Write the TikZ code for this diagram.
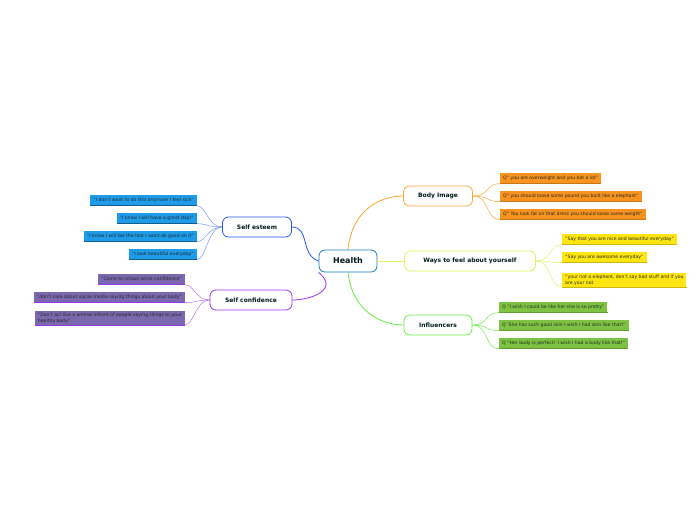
\documentclass[tikz,border=0pt]{standalone}
\usepackage{fontspec}
\setmainfont{DejaVu Sans}
\begin{document}
\begin{tikzpicture}[x=1pt,y=-1pt,
  topic/.style={draw=#1,fill=white,rounded corners=6pt,line width=0.8pt,font=\bfseries\fontsize{6}{7}\selectfont,text=black!80!teal,minimum height=20pt,inner xsep=6pt},
  leaf/.style={fill=#1,font=\fontsize{4.6}{5.6}\selectfont,text=black!85,minimum height=11pt,inner xsep=3pt,inner ysep=2pt,align=left},
  con/.style={draw=#1,line width=0.5pt}]
\clip (0,0) rectangle (696,520);
\useasboundingbox (0,0) rectangle (696,520);
\definecolor{cor}{HTML}{F7931E}\definecolor{cyl}{HTML}{FFE512}\definecolor{cgr}{HTML}{7DC242}
\definecolor{cbl}{HTML}{1E9BE9}\definecolor{cpu}{HTML}{7B68AE}
\definecolor{bor}{HTML}{F8A53A}\definecolor{byl}{HTML}{DDF55A}\definecolor{bgr}{HTML}{66EE44}
\definecolor{bbl}{HTML}{2255EE}\definecolor{bpu}{HTML}{9933EE}
\node[topic=cbl!80!black,font=\bfseries\fontsize{8}{9}\selectfont,minimum width=58pt,minimum height=22pt] (h) at (348,261) {Health};
\node[topic=bor,minimum width=69pt] (bi) at (438,196) {Body Image};
\node[topic=byl,minimum width=131pt] (wf) at (470,261) {Ways to feel about yourself};
\node[topic=bgr,minimum width=68pt] (inf) at (438,325) {Influencers};
\node[topic=bbl,minimum width=69pt] (se) at (257,227) {Self esteem};
\node[topic=bpu,minimum width=82pt] (sc) at (251,300) {Self confidence};
% main connectors
\draw[con=bor,line width=0.8pt] (h.north) .. controls (352,210) and (380,196) .. (bi.west);
\draw[con=byl,line width=0.8pt] (h.east) -- (wf.west);
\draw[con=bgr,line width=0.8pt] (h.south) .. controls (352,310) and (380,325) .. (inf.west);
\draw[con=bbl,line width=0.8pt] (h.west) .. controls (300,255) and (310,227) .. (se.east);
\draw[con=bpu,line width=0.8pt] (h.south west) .. controls (340,290) and (310,300) .. (sc.east);
% leaves right
\foreach \n/\y/\t in {a/178/{Q" you are overweight and you eat a lot"},b/196/{Q" you should loose some pound you built like a elephant"},c/214/{Q" You look fat on that dress you should loose some weight"}}{
  \node[leaf=cor,anchor=west] (bi\n) at (500,\y) {\t};
  \draw[cor!80!black,line width=0.6pt] (bi\n.south west) -- (bi\n.south east);
  \draw[con=bor] (bi.east) .. controls (490,196) and (485,\y+5.5) .. (bi\n.south west);}
\foreach \n/\y/\t in {a/239/{"Say that you are nice and beautiful everyday"},b/257/{"Say you are awesome everyday"},c/280/{"your not a elephant, don't say bad stuff and if you\\are your not}}{
  \node[leaf=cyl,anchor=west] (wf\n) at (562,\y) {\t};
  \draw[cyl!80!black,line width=0.6pt] (wf\n.south west) -- (wf\n.south east);
  \draw[con=byl] (wf.east) .. controls (552,261) and (548,\y+6) .. (wf\n.south west);}
\foreach \n/\y/\t in {a/307/{Q "I wish I could be like her she is so pretty"},b/325/{Q 'She has such good skin I wish I had skin like that!"},c/343/{Q "Her body is perfect! I wish I had a body like that!"}}{
  \node[leaf=cgr,anchor=west] (in\n) at (499,\y) {\t};
  \draw[cgr!80!black,line width=0.6pt] (in\n.south west) -- (in\n.south east);
  \draw[con=bgr] (inf.east) .. controls (489,325) and (484,\y+5.5) .. (in\n.south west);}
% leaves left
\foreach \n/\y/\t in {a/200/{"I don't want to do this anymore I feel sick"},b/218/{"I know I will have a great day!"},c/236/{"I know I will fail the test I wont do good on it"},d/254/{"I look beautiful everyday"}}{
  \node[leaf=cbl,anchor=east] (se\n) at (197,\y) {\t};
  \draw[cbl!60!black,line width=0.6pt] (se\n.south west) -- (se\n.south east);
  \draw[con=bbl!60] (se.west) .. controls (208,227) and (206,\y+5.5) .. (se\n.south east);}
\foreach \n/\y/\t in {a/279/{"Come to school while confidence"},b/297/{"don't care about social media saying things about your body"},c/318/{"Don't act like a animal infront of people saying things to your\\healthy body"}}{
  \node[leaf=cpu,anchor=east] (sc\n) at (185,\y) {\t};
  \draw[bpu,line width=0.6pt] (sc\n.south west) -- (sc\n.south east);
  \draw[con=bpu!70] (sc.west) .. controls (196,300) and (194,\y+6) .. (sc\n.south east);}
\end{tikzpicture}
\end{document}
